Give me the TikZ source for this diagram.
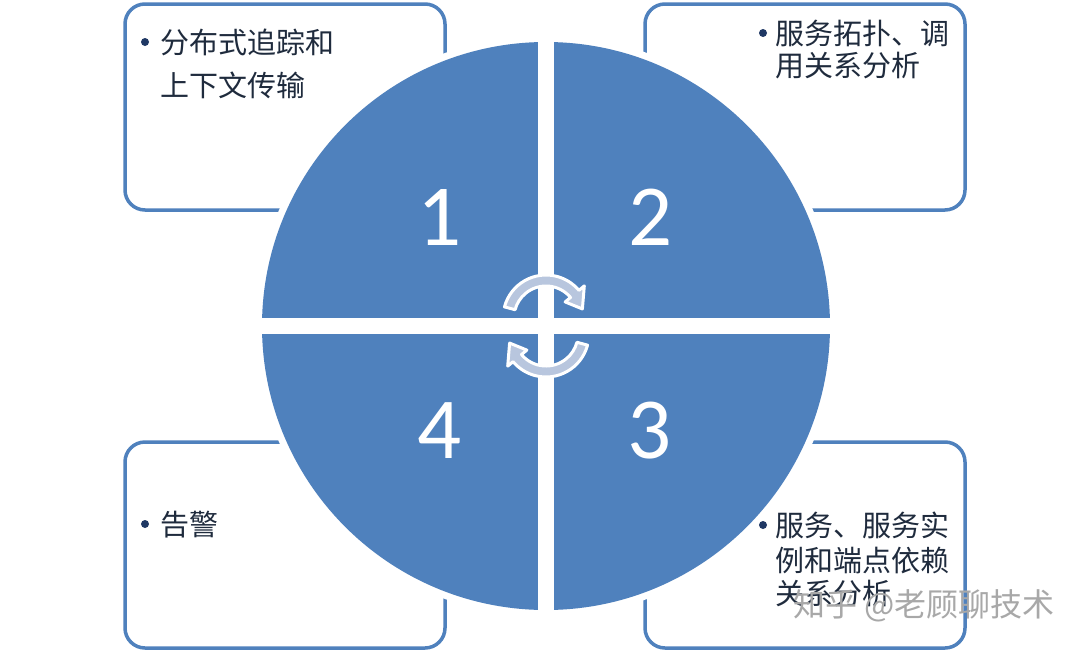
\documentclass[tikz,border=0pt]{standalone}
\usepackage{fontspec}
\setmainfont{Carlito}
\newfontfamily\cjk{Noto Sans CJK SC}
\usetikzlibrary{calc}
\definecolor{qblue}{HTML}{4F81BD}
\definecolor{txt}{HTML}{1F2B3D}
\definecolor{bul}{HTML}{1F3864}
\definecolor{arrfill}{HTML}{B8C6DE}
\definecolor{wm}{HTML}{A8A8A8}
\begin{document}
\begin{tikzpicture}[x=1pt,y=-1pt,
  infobox/.style={draw=qblue, line width=3.5pt, fill=white, rounded corners=20pt},
  numlabel/.style={text=white, font=\fontsize{87}{87}\selectfont, anchor=base, inner sep=0pt},
  cjktext/.style={text=txt, font=\cjk\fontsize{29}{29}\selectfont, anchor=base west, inner sep=0pt},
  bulletdot/.style={fill=bul, draw=none},
  cyclearrow/.style={fill=arrfill, draw=white, line width=3pt, line join=round}]
\useasboundingbox (0,0) rectangle (1092,651);
\fill[white] (0,0) rectangle (1092,651);
% boxes
\draw[infobox] (125,4) rectangle (445,210);
\draw[infobox] (645,4) rectangle (965,210);
\draw[infobox] (125,442) rectangle (445,648);
\draw[infobox] (645,442) rectangle (965,648);
% circle
\coordinate (c) at (546,326);
\fill[white] (c) circle[radius=291];
\fill[qblue] (c) circle[radius=284];
\fill[white] (538,30) rectangle (554,620);
\fill[white] (250,318) rectangle (842,334);
% numbers
\node[numlabel] (n1) at (440,245) {1};
\node[numlabel] (n2) at (651,245) {2};
\node[numlabel] (n3) at (650,458) {3};
\node[numlabel] (n4) at (440,458) {4};
% cycle arrows
\coordinate (ca) at (546,318);
\coordinate (cb) at (546,334);
\path[cyclearrow] ($(ca)+(195:43)$) arc[start angle=195, end angle=320, radius=43]
  -- ($(ca)+(320:50)$) -- ($(ca)+(346:37.5)$) -- ($(ca)+(320:25)$) -- ($(ca)+(320:32)$)
  arc[start angle=320, end angle=195, radius=32] -- cycle;
\path[cyclearrow] ($(cb)+(15:43)$) arc[start angle=15, end angle=140, radius=43]
  -- ($(cb)+(140:50)$) -- ($(cb)+(166:37.5)$) -- ($(cb)+(140:25)$) -- ($(cb)+(140:32)$)
  arc[start angle=140, end angle=15, radius=32] -- cycle;
% texts
\fill[bulletdot] (145,42) circle[radius=4];
\node[cjktext] (t1a) at (160,53) {分布式追踪和};
\node[cjktext] (t1b) at (160,96) {上下文传输};
\fill[bulletdot] (763,33) circle[radius=4];
\node[cjktext] (t2a) at (775,44) {服务拓扑、调};
\node[cjktext] (t2b) at (775,76) {用关系分析};
\fill[bulletdot] (145,524) circle[radius=4];
\node[cjktext] (t4a) at (160,535) {告警};
\fill[bulletdot] (763,525) circle[radius=4];
\node[cjktext] (t3a) at (775,536) {服务、服务实};
\node[cjktext] (t3b) at (775,571) {例和端点依赖};
\node[cjktext] (t3c) at (775,604) {关系分析};
% watermark
\node[text=wm, font=\cjk\fontsize{32}{32}\selectfont, anchor=base west, inner sep=0pt] (wmk) at (793,616) {知乎 @老顾聊技术};
\end{tikzpicture}
\end{document}
